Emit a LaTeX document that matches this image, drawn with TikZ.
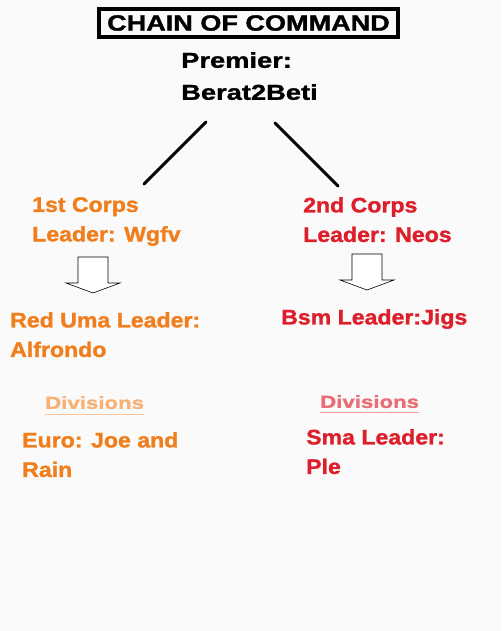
\documentclass[tikz,border=0pt]{standalone}
\usepackage{fontspec}
\setmainfont{Liberation Sans}[FakeStretch=1.1,BoldFeatures={FakeBold=1.3}]
\newfontfamily\headfont{Liberation Sans}[FakeStretch=1.27,BoldFeatures={FakeBold=1.3}]
\newfontfamily\titlefont{Liberation Sans}[FakeStretch=1.23,BoldFeatures={FakeBold=1.5}]
\usetikzlibrary{positioning,calc}
\definecolor{cmdA}{HTML}{F07E1C}
\definecolor{cmdB}{HTML}{DD1F2B}
\definecolor{paper}{HTML}{FAFAFA}

\begin{document}
\begin{tikzpicture}[x=1pt,y=-1pt,
  txt/.style={anchor=north west,inner sep=0pt,align=left,font=\bfseries\fontsize{21}{29.5}\selectfont},
  head/.style={txt,font=\headfont\bfseries\fontsize{21.5}{32}\selectfont},
  divhead/.style={txt,font=\headfont\bfseries\fontsize{17.5}{20}\selectfont},
  link/.style={line width=3pt,line cap=round},
  blockarrow/.style={draw=black,fill=white,line width=0.6pt,line join=miter}]
\useasboundingbox[fill=paper] (0,0) rectangle (501,631);
% title and premier
\node[draw,line width=4pt,inner sep=0pt,minimum width=299pt,minimum height=28pt,
  font=\titlefont\bfseries\fontsize{22}{22}\selectfont] (title) at (248.5,23) {CHAIN OF COMMAND};
\node[head] (premier) at (181,52) {Premier:\\Berat2Beti};
% corps
\node[txt,cmdA] (corpsA) at (32,197) {1st Corps\\Leader: Wgfv};
\node[txt,cmdB] (corpsB) at (303,197) {2nd Corps\\Leader: Neos};
\node[txt,cmdA] (umaA) at (10,312) {Red Uma Leader:\\Alfrondo};
\node[txt,cmdB] (bsmB) at (281,309) {Bsm Leader:Jigs};
% divisions
\node[divhead,cmdA!60] (divA) at (45,396) {Divisions};
\node[divhead,cmdB!65] (divB) at (320,395) {Divisions};
\draw[cmdA!45,line width=0.8pt] ([yshift=-5pt]divA.south west) -- ([yshift=-5pt]divA.south east);
\draw[cmdB!45,line width=0.8pt] ([yshift=-4pt]divB.south west) -- ([yshift=-4pt]divB.south east);
\node[txt,cmdA] (euroA) at (22,432) {Euro: Joe and\\Rain};
\node[txt,cmdB] (smaB) at (306,429) {Sma Leader:\\Ple};
% links
\coordinate (topL) at (206,122);
\coordinate (botL) at (144,184);
\coordinate (topR) at (275,123);
\coordinate (botR) at (338,186);
\draw[link] (topL) -- (botL);
\draw[link] (topR) -- (botR);
\foreach \x/\y in {78/257,352/254}
  \draw[blockarrow] (\x,\y) -- ++(30,0) -- ++(0,26) -- ++(12,0) -- ++(-27,10)
    -- ++(-27,-10) -- ++(12,0) -- cycle;
\end{tikzpicture}
\end{document}
